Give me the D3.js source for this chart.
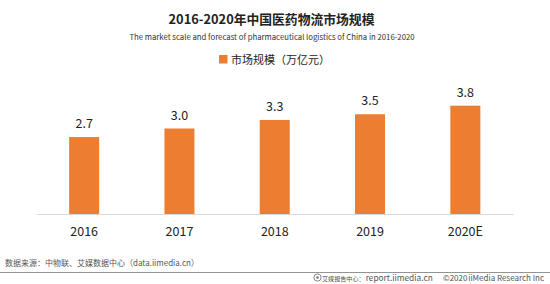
<!DOCTYPE html>
<html><head><meta charset="utf-8">
<script src="https://cdn.jsdelivr.net/npm/d3@7"></script>
<style>body{margin:0;background:#fff}svg{display:block}</style>
</head><body>
<svg id="c" width="550" height="284"></svg>
<script>
const categories = ["2016","2017","2018","2019","2020E"];
const values = [2.7, 3.0, 3.3, 3.5, 3.8];
const valueLabels = ["2.7","3.0","3.3","3.5","3.8"];
const seriesName = "市场规模（万亿元）";
const title = "2016-2020年中国医药物流市场规模";
const subtitle = "The market scale and forecast of pharmaceutical logistics of China in 2016-2020";
const source = "数据来源：中物联、艾媒数据中心（data.iimedia.cn）";
const creditParts = ["艾媒报告中心：", "report.iimedia.cn", "©2020", "iiMedia Research  Inc"];

const font = "'Noto Sans CJK SC','Noto Sans',sans-serif";
const svg = d3.select("#c");
const color = "#ED7D31";

const x = d3.scaleBand().domain(categories).range([36.5, 513]).paddingInner(0.685).paddingOuter(0.3425);
const y = d3.scaleLinear().domain([0, 4]).range([214, 100]);

svg.append("text").attr("x", 271.5).attr("y", 23.5).attr("text-anchor","middle")
  .attr("font-family", font).attr("font-weight","bold").attr("font-size", 12.8).attr("fill","#222").text(title);
svg.append("text").attr("x", 272).attr("y", 39.5).attr("text-anchor","middle")
  .attr("font-family", font).attr("font-size", 7.75).attr("fill","#333").text(subtitle);

// legend
const lg = svg.append("g");
lg.append("rect").attr("x", 219).attr("y", 55).attr("width", 8.5).attr("height", 8.5).attr("fill", color);
lg.append("text").attr("x", 231).attr("y", 63.5).attr("font-family", font).attr("font-size", 11)
  .attr("fill","#222").text(seriesName);

svg.selectAll("rect.bar").data(values).join("rect").attr("class","bar")
  .attr("x",(d,i)=>x(categories[i])).attr("width", x.bandwidth())
  .attr("y", d=>y(d)).attr("height", d=>y(0)-y(d)).attr("fill", color);

svg.selectAll("text.val").data(values).join("text").attr("class","val")
  .attr("x",(d,i)=>x(categories[i])+x.bandwidth()/2).attr("y", d=>y(d)-9)
  .attr("text-anchor","middle").attr("font-family", font).attr("font-size", 12.5).attr("fill","#222")
  .text((d,i)=>valueLabels[i]);

const ax = svg.append("g").attr("transform","translate(0,214)")
  .call(d3.axisBottom(x).tickSize(0).tickPadding(13));
ax.select(".domain").attr("stroke","#d9d9d9");
ax.selectAll("text").attr("font-family", font).attr("font-size", 12.5).attr("fill","#222");

svg.append("text").attr("x", 5).attr("y", 266).attr("font-family", font).attr("font-size", 8)
  .attr("fill","#555").text(source);
svg.append("line").attr("x1",0).attr("x2",550).attr("y1",272.5).attr("y2",272.5).attr("stroke","#777").attr("stroke-width",0.8);

// credit icon
const ic = svg.append("g").attr("transform","translate(317.5,277.5)");
ic.append("circle").attr("r",3.6).attr("fill","none").attr("stroke","#777").attr("stroke-width",0.9);
ic.append("circle").attr("r",1.3).attr("fill","#777");
const cy = 280.5;
const ct = svg.append("text").attr("x", 322).attr("y", cy).attr("font-family", font).attr("fill","#555");
ct.append("tspan").attr("font-size", 6.1).text(creditParts[0]);
ct.append("tspan").attr("font-size", 8.3).attr("dx", 1).text(creditParts[1]);
svg.append("text").attr("x", 443).attr("y", cy).attr("font-family", font)
  .attr("font-size", 8).attr("fill","#555").text(creditParts[2]);
svg.append("text").attr("x", 544).attr("y", cy).attr("text-anchor","end").attr("font-family", font)
  .attr("font-size", 8).attr("fill","#555").text(creditParts[3]);
</script>
</body></html>
